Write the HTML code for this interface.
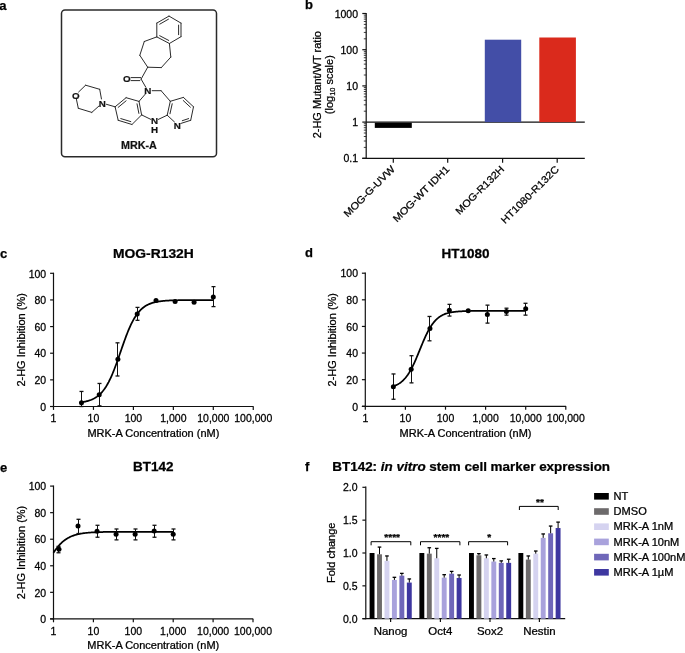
<!DOCTYPE html>
<html><head><meta charset="utf-8"><title>MRK-A figure</title>
<style>html,body{margin:0;padding:0;background:#fff;}body{width:685px;height:653px;overflow:hidden;}svg{display:block;font-family:'Liberation Sans',Arial,sans-serif;}</style>
</head><body>
<svg width="685" height="653" viewBox="0 0 685 653">
<text transform="translate(305.00 8.80)" font-size="13" text-anchor="start" font-weight="bold" fill="#000"  stroke="#000" stroke-width="0.25">b</text>
<text transform="translate(-0.80 10.00)" font-size="13" text-anchor="start" font-weight="bold" fill="#000"  stroke="#000" stroke-width="0.25">a</text>
<text transform="translate(0.00 257.50)" font-size="13" text-anchor="start" font-weight="bold" fill="#000"  stroke="#000" stroke-width="0.25">c</text>
<text transform="translate(305.00 256.80)" font-size="13" text-anchor="start" font-weight="bold" fill="#000"  stroke="#000" stroke-width="0.25">d</text>
<text transform="translate(0.00 471.50)" font-size="13" text-anchor="start" font-weight="bold" fill="#000"  stroke="#000" stroke-width="0.25">e</text>
<text transform="translate(305.00 470.70)" font-size="13" text-anchor="start" font-weight="bold" fill="#000"  stroke="#000" stroke-width="0.25">f</text>
<rect x="61.5" y="10" width="155" height="146.8" rx="3.5" ry="3.5" fill="none" stroke="#2a2a2a" stroke-width="1.5"/>
<line x1="169.00" y1="16.10" x2="181.00" y2="23.10" stroke="#2b2b2b" stroke-width="1.0" stroke-linecap="round"/>
<line x1="181.00" y1="23.10" x2="181.00" y2="36.70" stroke="#2b2b2b" stroke-width="1.0" stroke-linecap="round"/>
<line x1="181.00" y1="36.70" x2="169.40" y2="43.50" stroke="#2b2b2b" stroke-width="1.0" stroke-linecap="round"/>
<line x1="169.40" y1="43.50" x2="156.80" y2="36.90" stroke="#2b2b2b" stroke-width="1.0" stroke-linecap="round"/>
<line x1="156.80" y1="36.90" x2="156.80" y2="23.10" stroke="#2b2b2b" stroke-width="1.0" stroke-linecap="round"/>
<line x1="156.80" y1="23.10" x2="169.00" y2="16.10" stroke="#2b2b2b" stroke-width="1.0" stroke-linecap="round"/>
<line x1="159.73" y1="24.19" x2="168.46" y2="19.18" stroke="#2b2b2b" stroke-width="1.0" stroke-linecap="round"/>
<line x1="178.60" y1="25.10" x2="178.60" y2="34.70" stroke="#2b2b2b" stroke-width="1.0" stroke-linecap="round"/>
<line x1="168.74" y1="40.45" x2="159.69" y2="35.70" stroke="#2b2b2b" stroke-width="1.0" stroke-linecap="round"/>
<line x1="156.80" y1="36.90" x2="144.30" y2="41.50" stroke="#2b2b2b" stroke-width="1.0" stroke-linecap="round"/>
<line x1="144.30" y1="41.50" x2="139.80" y2="55.30" stroke="#2b2b2b" stroke-width="1.0" stroke-linecap="round"/>
<line x1="139.80" y1="55.30" x2="147.70" y2="67.20" stroke="#2b2b2b" stroke-width="1.0" stroke-linecap="round"/>
<line x1="147.70" y1="67.20" x2="161.30" y2="67.60" stroke="#2b2b2b" stroke-width="1.0" stroke-linecap="round"/>
<line x1="161.30" y1="67.60" x2="170.80" y2="57.10" stroke="#2b2b2b" stroke-width="1.0" stroke-linecap="round"/>
<line x1="170.80" y1="57.10" x2="169.40" y2="43.50" stroke="#2b2b2b" stroke-width="1.0" stroke-linecap="round"/>
<line x1="147.70" y1="67.20" x2="141.10" y2="79.10" stroke="#2b2b2b" stroke-width="1.0" stroke-linecap="round"/>
<line x1="130.60" y1="77.60" x2="141.00" y2="77.60" stroke="#2b2b2b" stroke-width="1.0" />
<line x1="130.60" y1="80.60" x2="140.20" y2="80.60" stroke="#2b2b2b" stroke-width="1.0" />
<text transform="translate(126.80 82.30)" font-size="9.8" text-anchor="middle" font-weight="bold" fill="#111" stroke="#111" stroke-width="0.2">O</text>
<line x1="141.10" y1="79.10" x2="145.89" y2="87.37" stroke="#2b2b2b" stroke-width="1.0" stroke-linecap="round"/>
<text transform="translate(147.80 93.80)" font-size="9.8" text-anchor="middle" font-weight="bold" fill="#111" stroke="#111" stroke-width="0.2">N</text>
<line x1="152.20" y1="90.70" x2="161.10" y2="90.70" stroke="#2b2b2b" stroke-width="1.0" stroke-linecap="round"/>
<line x1="161.10" y1="90.70" x2="170.30" y2="101.30" stroke="#2b2b2b" stroke-width="1.0" stroke-linecap="round"/>
<line x1="170.30" y1="101.30" x2="183.40" y2="97.40" stroke="#2b2b2b" stroke-width="1.0" stroke-linecap="round"/>
<line x1="183.40" y1="97.40" x2="193.50" y2="106.80" stroke="#2b2b2b" stroke-width="1.0" stroke-linecap="round"/>
<line x1="193.50" y1="106.80" x2="190.70" y2="120.30" stroke="#2b2b2b" stroke-width="1.0" stroke-linecap="round"/>
<line x1="190.70" y1="120.30" x2="180.92" y2="123.44" stroke="#2b2b2b" stroke-width="1.0" stroke-linecap="round"/>
<line x1="174.52" y1="122.01" x2="167.20" y2="115.20" stroke="#2b2b2b" stroke-width="1.0" stroke-linecap="round"/>
<line x1="167.20" y1="115.20" x2="170.30" y2="101.30" stroke="#2b2b2b" stroke-width="1.0" stroke-linecap="round"/>
<line x1="169.98" y1="113.77" x2="172.21" y2="103.77" stroke="#2b2b2b" stroke-width="1.0" stroke-linecap="round"/>
<line x1="183.23" y1="100.52" x2="190.40" y2="107.19" stroke="#2b2b2b" stroke-width="1.0" stroke-linecap="round"/>
<line x1="182.30" y1="120.70" x2="188.60" y2="118.60" stroke="#2b2b2b" stroke-width="1.0" stroke-linecap="round"/>
<text transform="translate(177.30 128.60)" font-size="9.8" text-anchor="middle" font-weight="bold" fill="#111" stroke="#111" stroke-width="0.2">N</text>
<text transform="translate(154.50 124.30)" font-size="9.8" text-anchor="middle" font-weight="bold" fill="#111" stroke="#111" stroke-width="0.2">N</text>
<text transform="translate(154.60 132.60)" font-size="9.8" text-anchor="middle" font-weight="bold" fill="#111" stroke="#111" stroke-width="0.2">H</text>
<line x1="115.10" y1="106.80" x2="126.10" y2="97.70" stroke="#2b2b2b" stroke-width="1.0" stroke-linecap="round"/>
<line x1="126.10" y1="97.70" x2="139.00" y2="101.40" stroke="#2b2b2b" stroke-width="1.0" stroke-linecap="round"/>
<line x1="139.00" y1="101.40" x2="141.60" y2="114.90" stroke="#2b2b2b" stroke-width="1.0" stroke-linecap="round"/>
<line x1="141.60" y1="114.90" x2="132.00" y2="124.50" stroke="#2b2b2b" stroke-width="1.0" stroke-linecap="round"/>
<line x1="132.00" y1="124.50" x2="118.20" y2="120.30" stroke="#2b2b2b" stroke-width="1.0" stroke-linecap="round"/>
<line x1="118.20" y1="120.30" x2="115.10" y2="106.80" stroke="#2b2b2b" stroke-width="1.0" stroke-linecap="round"/>
<line x1="118.17" y1="107.37" x2="126.09" y2="100.82" stroke="#2b2b2b" stroke-width="1.0" stroke-linecap="round"/>
<line x1="137.02" y1="103.82" x2="138.87" y2="113.39" stroke="#2b2b2b" stroke-width="1.0" stroke-linecap="round"/>
<line x1="130.79" y1="121.62" x2="120.81" y2="118.59" stroke="#2b2b2b" stroke-width="1.0" stroke-linecap="round"/>
<line x1="139.00" y1="101.40" x2="145.38" y2="94.02" stroke="#2b2b2b" stroke-width="1.0" stroke-linecap="round"/>
<line x1="141.60" y1="114.90" x2="151.00" y2="119.46" stroke="#2b2b2b" stroke-width="1.0" stroke-linecap="round"/>
<line x1="167.20" y1="115.20" x2="158.39" y2="119.39" stroke="#2b2b2b" stroke-width="1.0" stroke-linecap="round"/>
<text transform="translate(102.20 106.60)" font-size="9.8" text-anchor="middle" font-weight="bold" fill="#111" stroke="#111" stroke-width="0.2">N</text>
<line x1="115.10" y1="106.80" x2="106.43" y2="104.31" stroke="#2b2b2b" stroke-width="1.0" stroke-linecap="round"/>
<line x1="85.60" y1="85.20" x2="99.70" y2="89.30" stroke="#2b2b2b" stroke-width="1.0" stroke-linecap="round"/>
<line x1="99.70" y1="89.30" x2="101.45" y2="98.97" stroke="#2b2b2b" stroke-width="1.0" stroke-linecap="round"/>
<line x1="99.07" y1="105.90" x2="91.80" y2="112.40" stroke="#2b2b2b" stroke-width="1.0" stroke-linecap="round"/>
<line x1="91.80" y1="112.40" x2="78.30" y2="108.30" stroke="#2b2b2b" stroke-width="1.0" stroke-linecap="round"/>
<line x1="78.30" y1="108.30" x2="76.37" y2="99.11" stroke="#2b2b2b" stroke-width="1.0" stroke-linecap="round"/>
<line x1="78.59" y1="92.01" x2="85.60" y2="85.20" stroke="#2b2b2b" stroke-width="1.0" stroke-linecap="round"/>
<text transform="translate(75.70 98.50)" font-size="9.8" text-anchor="middle" font-weight="bold" fill="#111" stroke="#111" stroke-width="0.2">O</text>
<text transform="translate(138.90 148.60)" font-size="10.8" text-anchor="middle" font-weight="bold" fill="#111" stroke="#111" stroke-width="0.2">MRK-A</text>
<line x1="366.20" y1="12.90" x2="366.20" y2="159.00" stroke="#111" stroke-width="1.2" />
<line x1="362.30" y1="158.30" x2="366.20" y2="158.30" stroke="#111" stroke-width="1.2" />
<text transform="translate(358.00 162.30) scale(1.05 1)" font-size="10" text-anchor="end" font-weight="normal" fill="#000"  stroke="#000" stroke-width="0.25">0.1</text>
<line x1="363.80" y1="147.40" x2="366.20" y2="147.40" stroke="#111" stroke-width="0.8" />
<line x1="363.80" y1="141.03" x2="366.20" y2="141.03" stroke="#111" stroke-width="0.8" />
<line x1="363.80" y1="136.51" x2="366.20" y2="136.51" stroke="#111" stroke-width="0.8" />
<line x1="363.80" y1="133.00" x2="366.20" y2="133.00" stroke="#111" stroke-width="0.8" />
<line x1="363.80" y1="130.13" x2="366.20" y2="130.13" stroke="#111" stroke-width="0.8" />
<line x1="363.80" y1="127.71" x2="366.20" y2="127.71" stroke="#111" stroke-width="0.8" />
<line x1="363.80" y1="125.61" x2="366.20" y2="125.61" stroke="#111" stroke-width="0.8" />
<line x1="363.80" y1="123.76" x2="366.20" y2="123.76" stroke="#111" stroke-width="0.8" />
<line x1="362.30" y1="122.10" x2="366.20" y2="122.10" stroke="#111" stroke-width="1.2" />
<text transform="translate(358.00 126.10) scale(1.05 1)" font-size="10" text-anchor="end" font-weight="normal" fill="#000"  stroke="#000" stroke-width="0.25">1</text>
<line x1="363.80" y1="111.20" x2="366.20" y2="111.20" stroke="#111" stroke-width="0.8" />
<line x1="363.80" y1="104.83" x2="366.20" y2="104.83" stroke="#111" stroke-width="0.8" />
<line x1="363.80" y1="100.31" x2="366.20" y2="100.31" stroke="#111" stroke-width="0.8" />
<line x1="363.80" y1="96.80" x2="366.20" y2="96.80" stroke="#111" stroke-width="0.8" />
<line x1="363.80" y1="93.93" x2="366.20" y2="93.93" stroke="#111" stroke-width="0.8" />
<line x1="363.80" y1="91.51" x2="366.20" y2="91.51" stroke="#111" stroke-width="0.8" />
<line x1="363.80" y1="89.41" x2="366.20" y2="89.41" stroke="#111" stroke-width="0.8" />
<line x1="363.80" y1="87.56" x2="366.20" y2="87.56" stroke="#111" stroke-width="0.8" />
<line x1="362.30" y1="85.90" x2="366.20" y2="85.90" stroke="#111" stroke-width="1.2" />
<text transform="translate(358.00 89.90) scale(1.05 1)" font-size="10" text-anchor="end" font-weight="normal" fill="#000"  stroke="#000" stroke-width="0.25">10</text>
<line x1="363.80" y1="75.00" x2="366.20" y2="75.00" stroke="#111" stroke-width="0.8" />
<line x1="363.80" y1="68.63" x2="366.20" y2="68.63" stroke="#111" stroke-width="0.8" />
<line x1="363.80" y1="64.11" x2="366.20" y2="64.11" stroke="#111" stroke-width="0.8" />
<line x1="363.80" y1="60.60" x2="366.20" y2="60.60" stroke="#111" stroke-width="0.8" />
<line x1="363.80" y1="57.73" x2="366.20" y2="57.73" stroke="#111" stroke-width="0.8" />
<line x1="363.80" y1="55.31" x2="366.20" y2="55.31" stroke="#111" stroke-width="0.8" />
<line x1="363.80" y1="53.21" x2="366.20" y2="53.21" stroke="#111" stroke-width="0.8" />
<line x1="363.80" y1="51.36" x2="366.20" y2="51.36" stroke="#111" stroke-width="0.8" />
<line x1="362.30" y1="49.70" x2="366.20" y2="49.70" stroke="#111" stroke-width="1.2" />
<text transform="translate(358.00 53.70) scale(1.05 1)" font-size="10" text-anchor="end" font-weight="normal" fill="#000"  stroke="#000" stroke-width="0.25">100</text>
<line x1="363.80" y1="38.80" x2="366.20" y2="38.80" stroke="#111" stroke-width="0.8" />
<line x1="363.80" y1="32.43" x2="366.20" y2="32.43" stroke="#111" stroke-width="0.8" />
<line x1="363.80" y1="27.91" x2="366.20" y2="27.91" stroke="#111" stroke-width="0.8" />
<line x1="363.80" y1="24.40" x2="366.20" y2="24.40" stroke="#111" stroke-width="0.8" />
<line x1="363.80" y1="21.53" x2="366.20" y2="21.53" stroke="#111" stroke-width="0.8" />
<line x1="363.80" y1="19.11" x2="366.20" y2="19.11" stroke="#111" stroke-width="0.8" />
<line x1="363.80" y1="17.01" x2="366.20" y2="17.01" stroke="#111" stroke-width="0.8" />
<line x1="363.80" y1="15.16" x2="366.20" y2="15.16" stroke="#111" stroke-width="0.8" />
<line x1="362.30" y1="13.50" x2="366.20" y2="13.50" stroke="#111" stroke-width="1.2" />
<text transform="translate(358.00 17.50) scale(1.05 1)" font-size="10" text-anchor="end" font-weight="normal" fill="#000"  stroke="#000" stroke-width="0.25">1000</text>
<line x1="362.30" y1="158.40" x2="584.80" y2="158.40" stroke="#111" stroke-width="1.2" />
<line x1="366.20" y1="122.10" x2="584.80" y2="122.10" stroke="#111" stroke-width="1.2" />
<line x1="393.30" y1="158.40" x2="393.30" y2="162.80" stroke="#111" stroke-width="1.2" />
<text transform="translate(395.60 169.80) rotate(-45) scale(1.1 1)" font-size="10" text-anchor="end" font-weight="normal" fill="#000"  stroke="#000" stroke-width="0.25">MOG-G-UVW</text>
<line x1="447.70" y1="158.40" x2="447.70" y2="162.80" stroke="#111" stroke-width="1.2" />
<text transform="translate(450.00 169.80) rotate(-45) scale(1.1 1)" font-size="10" text-anchor="end" font-weight="normal" fill="#000"  stroke="#000" stroke-width="0.25">MOG-WT IDH1</text>
<line x1="502.60" y1="158.40" x2="502.60" y2="162.80" stroke="#111" stroke-width="1.2" />
<text transform="translate(504.90 169.80) rotate(-45) scale(1.1 1)" font-size="10" text-anchor="end" font-weight="normal" fill="#000"  stroke="#000" stroke-width="0.25">MOG-R132H</text>
<line x1="557.20" y1="158.40" x2="557.20" y2="162.80" stroke="#111" stroke-width="1.2" />
<text transform="translate(559.50 169.80) rotate(-45) scale(1.1 1)" font-size="10" text-anchor="end" font-weight="normal" fill="#000"  stroke="#000" stroke-width="0.25">HT1080-R132C</text>
<rect x="374.80" y="122.70" width="37.00" height="5.20" fill="#000"/>
<rect x="484.80" y="39.70" width="36.40" height="82.40" fill="#434ea7"/>
<rect x="539.30" y="37.50" width="36.60" height="84.60" fill="#da2a1c"/>
<text transform="translate(321.30 84.70) rotate(-90) scale(1.1 1)" font-size="10" text-anchor="middle" font-weight="normal" fill="#000"  stroke="#000" stroke-width="0.25">2-HG Mutant/WT ratio</text>
<text transform="translate(333.30 84.70) rotate(-90) scale(1.1 1)" font-size="10" text-anchor="middle" font-weight="normal" fill="#000"  stroke="#000" stroke-width="0.25">(log<tspan font-size="6.8" dy="2">10</tspan><tspan dy="-2"> scale)</tspan></text>
<line x1="53.50" y1="272.70" x2="53.50" y2="407.10" stroke="#111" stroke-width="1.2" />
<line x1="50.10" y1="406.50" x2="253.55" y2="406.50" stroke="#111" stroke-width="1.2" />
<line x1="50.10" y1="406.50" x2="53.50" y2="406.50" stroke="#111" stroke-width="1.2" />
<text transform="translate(46.20 410.70) scale(1.05 1)" font-size="10" text-anchor="end" font-weight="normal" fill="#000"  stroke="#000" stroke-width="0.25">0</text>
<line x1="50.10" y1="379.86" x2="53.50" y2="379.86" stroke="#111" stroke-width="1.2" />
<text transform="translate(46.20 384.06) scale(1.05 1)" font-size="10" text-anchor="end" font-weight="normal" fill="#000"  stroke="#000" stroke-width="0.25">20</text>
<line x1="50.10" y1="353.22" x2="53.50" y2="353.22" stroke="#111" stroke-width="1.2" />
<text transform="translate(46.20 357.42) scale(1.05 1)" font-size="10" text-anchor="end" font-weight="normal" fill="#000"  stroke="#000" stroke-width="0.25">40</text>
<line x1="50.10" y1="326.58" x2="53.50" y2="326.58" stroke="#111" stroke-width="1.2" />
<text transform="translate(46.20 330.78) scale(1.05 1)" font-size="10" text-anchor="end" font-weight="normal" fill="#000"  stroke="#000" stroke-width="0.25">60</text>
<line x1="50.10" y1="299.94" x2="53.50" y2="299.94" stroke="#111" stroke-width="1.2" />
<text transform="translate(46.20 304.14) scale(1.05 1)" font-size="10" text-anchor="end" font-weight="normal" fill="#000"  stroke="#000" stroke-width="0.25">80</text>
<line x1="50.10" y1="273.30" x2="53.50" y2="273.30" stroke="#111" stroke-width="1.2" />
<text transform="translate(46.20 277.50) scale(1.05 1)" font-size="10" text-anchor="end" font-weight="normal" fill="#000"  stroke="#000" stroke-width="0.25">100</text>
<line x1="53.50" y1="406.50" x2="53.50" y2="409.90" stroke="#111" stroke-width="1.2" />
<text transform="translate(53.50 422.30) scale(1.05 1)" font-size="10" text-anchor="middle" font-weight="normal" fill="#000"  stroke="#000" stroke-width="0.25">1</text>
<line x1="93.45" y1="406.50" x2="93.45" y2="409.90" stroke="#111" stroke-width="1.2" />
<text transform="translate(93.45 422.30) scale(1.05 1)" font-size="10" text-anchor="middle" font-weight="normal" fill="#000"  stroke="#000" stroke-width="0.25">10</text>
<line x1="133.40" y1="406.50" x2="133.40" y2="409.90" stroke="#111" stroke-width="1.2" />
<text transform="translate(133.40 422.30) scale(1.05 1)" font-size="10" text-anchor="middle" font-weight="normal" fill="#000"  stroke="#000" stroke-width="0.25">100</text>
<line x1="173.35" y1="406.50" x2="173.35" y2="409.90" stroke="#111" stroke-width="1.2" />
<text transform="translate(173.35 422.30) scale(1.05 1)" font-size="10" text-anchor="middle" font-weight="normal" fill="#000"  stroke="#000" stroke-width="0.25">1,000</text>
<line x1="213.30" y1="406.50" x2="213.30" y2="409.90" stroke="#111" stroke-width="1.2" />
<text transform="translate(213.30 422.30) scale(1.05 1)" font-size="10" text-anchor="middle" font-weight="normal" fill="#000"  stroke="#000" stroke-width="0.25">10,000</text>
<line x1="253.25" y1="406.50" x2="253.25" y2="409.90" stroke="#111" stroke-width="1.2" />
<text transform="translate(253.25 422.30) scale(1.05 1)" font-size="10" text-anchor="middle" font-weight="normal" fill="#000"  stroke="#000" stroke-width="0.25">100,000</text>
<text transform="translate(153.38 436.70) scale(1.1 1)" font-size="10" text-anchor="middle" font-weight="normal" fill="#000"  stroke="#000" stroke-width="0.25">MRK-A Concentration (nM)</text>
<text transform="translate(24.50 339.90) rotate(-90) scale(1.1 1)" font-size="10" text-anchor="middle" font-weight="normal" fill="#000"  stroke="#000" stroke-width="0.25">2-HG Inhibition (%)</text>
<text transform="translate(153.38 257.80) scale(1.11 1)" font-size="12.5" text-anchor="middle" font-weight="bold" fill="#000"  stroke="#000" stroke-width="0.25">MOG-R132H</text>
<path d="M81.47,402.22 L82.13,402.13 L82.79,402.02 L83.45,401.91 L84.11,401.79 L84.78,401.66 L85.44,401.53 L86.10,401.38 L86.76,401.22 L87.43,401.05 L88.09,400.86 L88.75,400.67 L89.41,400.45 L90.08,400.23 L90.74,399.98 L91.40,399.72 L92.06,399.44 L92.73,399.14 L93.39,398.82 L94.05,398.48 L94.71,398.11 L95.38,397.72 L96.04,397.30 L96.70,396.86 L97.36,396.38 L98.03,395.87 L98.69,395.33 L99.35,394.75 L100.01,394.14 L100.68,393.49 L101.34,392.79 L102.00,392.06 L102.66,391.28 L103.33,390.46 L103.99,389.59 L104.65,388.67 L105.31,387.70 L105.98,386.68 L106.64,385.60 L107.30,384.47 L107.96,383.29 L108.63,382.06 L109.29,380.77 L109.95,379.42 L110.61,378.02 L111.28,376.56 L111.94,375.06 L112.60,373.50 L113.26,371.89 L113.93,370.23 L114.59,368.53 L115.25,366.79 L115.91,365.01 L116.58,363.20 L117.24,361.36 L117.90,359.49 L118.56,357.60 L119.23,355.69 L119.89,353.77 L120.55,351.85 L121.21,349.93 L121.88,348.01 L122.54,346.11 L123.20,344.21 L123.86,342.34 L124.53,340.50 L125.19,338.68 L125.85,336.90 L126.51,335.16 L127.18,333.45 L127.84,331.79 L128.50,330.18 L129.16,328.62 L129.83,327.11 L130.49,325.65 L131.15,324.24 L131.81,322.89 L132.48,321.60 L133.14,320.36 L133.80,319.17 L134.46,318.04 L135.13,316.96 L135.79,315.94 L136.45,314.97 L137.11,314.04 L137.78,313.17 L138.44,312.34 L139.10,311.56 L139.76,310.82 L140.43,310.13 L141.09,309.47 L141.75,308.85 L142.41,308.27 L143.08,307.73 L143.74,307.22 L144.40,306.74 L145.06,306.29 L145.73,305.87 L146.39,305.48 L147.05,305.11 L147.71,304.76 L148.38,304.44 L149.04,304.14 L149.70,303.86 L150.36,303.60 L151.03,303.35 L151.69,303.12 L152.35,302.91 L153.01,302.71 L153.68,302.53 L154.34,302.36 L155.00,302.20 L155.66,302.05 L156.33,301.91 L156.99,301.78 L157.65,301.66 L158.31,301.55 L158.98,301.44 L159.64,301.35 L160.30,301.26 L160.96,301.17 L161.63,301.09 L162.29,301.02 L162.95,300.95 L163.61,300.89 L164.28,300.83 L164.94,300.78 L165.60,300.73 L166.26,300.68 L166.93,300.64 L167.59,300.60 L168.25,300.56 L168.91,300.53 L169.58,300.49 L170.24,300.46 L170.90,300.44 L171.56,300.41 L172.23,300.39 L172.89,300.36 L173.55,300.34 L174.21,300.32 L174.88,300.31 L175.54,300.29 L176.20,300.27 L176.86,300.26 L177.53,300.25 L178.19,300.23 L178.85,300.22 L179.51,300.21 L180.18,300.20 L180.84,300.19 L181.50,300.18 L182.16,300.18 L182.83,300.17 L183.49,300.16 L184.15,300.16 L184.81,300.15 L185.48,300.14 L186.14,300.14 L186.80,300.13 L187.46,300.13 L188.13,300.13 L188.79,300.12 L189.45,300.12 L190.11,300.12 L190.78,300.11 L191.44,300.11 L192.10,300.11 L192.76,300.10 L193.43,300.10 L194.09,300.10 L194.75,300.10 L195.41,300.10 L196.08,300.09 L196.74,300.09 L197.40,300.09 L198.06,300.09 L198.73,300.09 L199.39,300.09 L200.05,300.09 L200.71,300.09 L201.38,300.09 L202.04,300.08 L202.70,300.08 L203.36,300.08 L204.03,300.08 L204.69,300.08 L205.35,300.08 L206.01,300.08 L206.68,300.08 L207.34,300.08 L208.00,300.08 L208.66,300.08 L209.33,300.08 L209.99,300.08 L210.65,300.08 L211.31,300.08 L211.98,300.08 L212.64,300.08 L213.30,300.08" fill="none" stroke="#000" stroke-width="1.75"/>
<line x1="81.50" y1="402.77" x2="81.50" y2="391.45" stroke="#111" stroke-width="1.0" />
<line x1="79.50" y1="391.45" x2="83.50" y2="391.45" stroke="#111" stroke-width="1.3" />
<line x1="81.50" y1="402.77" x2="81.50" y2="406.50" stroke="#111" stroke-width="1.0" />
<line x1="79.50" y1="406.50" x2="83.50" y2="406.50" stroke="#111" stroke-width="1.3" />
<circle cx="81.47" cy="402.77" r="2.5" fill="#000"/>
<line x1="99.50" y1="394.65" x2="99.50" y2="383.46" stroke="#111" stroke-width="1.0" />
<line x1="97.50" y1="383.46" x2="101.50" y2="383.46" stroke="#111" stroke-width="1.3" />
<line x1="99.50" y1="394.65" x2="99.50" y2="405.83" stroke="#111" stroke-width="1.0" />
<line x1="97.50" y1="405.83" x2="101.50" y2="405.83" stroke="#111" stroke-width="1.3" />
<circle cx="99.20" cy="394.65" r="2.5" fill="#000"/>
<line x1="117.50" y1="359.35" x2="117.50" y2="342.83" stroke="#111" stroke-width="1.0" />
<line x1="115.50" y1="342.83" x2="119.50" y2="342.83" stroke="#111" stroke-width="1.3" />
<line x1="117.50" y1="359.35" x2="117.50" y2="376.00" stroke="#111" stroke-width="1.0" />
<line x1="115.50" y1="376.00" x2="119.50" y2="376.00" stroke="#111" stroke-width="1.3" />
<circle cx="117.90" cy="359.35" r="2.5" fill="#000"/>
<line x1="137.50" y1="313.93" x2="137.50" y2="307.40" stroke="#111" stroke-width="1.0" />
<line x1="135.50" y1="307.40" x2="139.50" y2="307.40" stroke="#111" stroke-width="1.3" />
<line x1="137.50" y1="313.93" x2="137.50" y2="320.32" stroke="#111" stroke-width="1.0" />
<line x1="135.50" y1="320.32" x2="139.50" y2="320.32" stroke="#111" stroke-width="1.3" />
<circle cx="137.20" cy="313.93" r="2.5" fill="#000"/>
<circle cx="156.01" cy="300.61" r="2.5" fill="#000"/>
<circle cx="175.11" cy="301.41" r="2.5" fill="#000"/>
<circle cx="194.08" cy="302.34" r="2.5" fill="#000"/>
<line x1="213.50" y1="297.01" x2="213.50" y2="286.62" stroke="#111" stroke-width="1.0" />
<line x1="211.50" y1="286.62" x2="215.50" y2="286.62" stroke="#111" stroke-width="1.3" />
<line x1="213.50" y1="297.01" x2="213.50" y2="306.60" stroke="#111" stroke-width="1.0" />
<line x1="211.50" y1="306.60" x2="215.50" y2="306.60" stroke="#111" stroke-width="1.3" />
<circle cx="213.30" cy="297.01" r="2.5" fill="#000"/>
<line x1="365.30" y1="272.60" x2="365.30" y2="406.90" stroke="#111" stroke-width="1.2" />
<line x1="361.90" y1="406.30" x2="566.10" y2="406.30" stroke="#111" stroke-width="1.2" />
<line x1="361.90" y1="406.30" x2="365.30" y2="406.30" stroke="#111" stroke-width="1.2" />
<text transform="translate(358.00 410.50) scale(1.05 1)" font-size="10" text-anchor="end" font-weight="normal" fill="#000"  stroke="#000" stroke-width="0.25">0</text>
<line x1="361.90" y1="379.68" x2="365.30" y2="379.68" stroke="#111" stroke-width="1.2" />
<text transform="translate(358.00 383.88) scale(1.05 1)" font-size="10" text-anchor="end" font-weight="normal" fill="#000"  stroke="#000" stroke-width="0.25">20</text>
<line x1="361.90" y1="353.06" x2="365.30" y2="353.06" stroke="#111" stroke-width="1.2" />
<text transform="translate(358.00 357.26) scale(1.05 1)" font-size="10" text-anchor="end" font-weight="normal" fill="#000"  stroke="#000" stroke-width="0.25">40</text>
<line x1="361.90" y1="326.44" x2="365.30" y2="326.44" stroke="#111" stroke-width="1.2" />
<text transform="translate(358.00 330.64) scale(1.05 1)" font-size="10" text-anchor="end" font-weight="normal" fill="#000"  stroke="#000" stroke-width="0.25">60</text>
<line x1="361.90" y1="299.82" x2="365.30" y2="299.82" stroke="#111" stroke-width="1.2" />
<text transform="translate(358.00 304.02) scale(1.05 1)" font-size="10" text-anchor="end" font-weight="normal" fill="#000"  stroke="#000" stroke-width="0.25">80</text>
<line x1="361.90" y1="273.20" x2="365.30" y2="273.20" stroke="#111" stroke-width="1.2" />
<text transform="translate(358.00 277.40) scale(1.05 1)" font-size="10" text-anchor="end" font-weight="normal" fill="#000"  stroke="#000" stroke-width="0.25">100</text>
<line x1="365.30" y1="406.30" x2="365.30" y2="409.70" stroke="#111" stroke-width="1.2" />
<text transform="translate(365.30 422.10) scale(1.05 1)" font-size="10" text-anchor="middle" font-weight="normal" fill="#000"  stroke="#000" stroke-width="0.25">1</text>
<line x1="405.40" y1="406.30" x2="405.40" y2="409.70" stroke="#111" stroke-width="1.2" />
<text transform="translate(405.40 422.10) scale(1.05 1)" font-size="10" text-anchor="middle" font-weight="normal" fill="#000"  stroke="#000" stroke-width="0.25">10</text>
<line x1="445.50" y1="406.30" x2="445.50" y2="409.70" stroke="#111" stroke-width="1.2" />
<text transform="translate(445.50 422.10) scale(1.05 1)" font-size="10" text-anchor="middle" font-weight="normal" fill="#000"  stroke="#000" stroke-width="0.25">100</text>
<line x1="485.60" y1="406.30" x2="485.60" y2="409.70" stroke="#111" stroke-width="1.2" />
<text transform="translate(485.60 422.10) scale(1.05 1)" font-size="10" text-anchor="middle" font-weight="normal" fill="#000"  stroke="#000" stroke-width="0.25">1,000</text>
<line x1="525.70" y1="406.30" x2="525.70" y2="409.70" stroke="#111" stroke-width="1.2" />
<text transform="translate(525.70 422.10) scale(1.05 1)" font-size="10" text-anchor="middle" font-weight="normal" fill="#000"  stroke="#000" stroke-width="0.25">10,000</text>
<line x1="565.80" y1="406.30" x2="565.80" y2="409.70" stroke="#111" stroke-width="1.2" />
<text transform="translate(565.80 422.10) scale(1.05 1)" font-size="10" text-anchor="middle" font-weight="normal" fill="#000"  stroke="#000" stroke-width="0.25">100,000</text>
<text transform="translate(465.55 436.50) scale(1.1 1)" font-size="10" text-anchor="middle" font-weight="normal" fill="#000"  stroke="#000" stroke-width="0.25">MRK-A Concentration (nM)</text>
<text transform="translate(336.30 339.75) rotate(-90) scale(1.1 1)" font-size="10" text-anchor="middle" font-weight="normal" fill="#000"  stroke="#000" stroke-width="0.25">2-HG Inhibition (%)</text>
<text transform="translate(465.55 257.70) scale(1.08 1)" font-size="12.5" text-anchor="middle" font-weight="bold" fill="#000"  stroke="#000" stroke-width="0.25">HT1080</text>
<path d="M393.37,386.21 L394.03,385.98 L394.70,385.73 L395.36,385.46 L396.03,385.18 L396.69,384.87 L397.36,384.53 L398.02,384.17 L398.69,383.78 L399.35,383.37 L400.02,382.92 L400.68,382.44 L401.35,381.92 L402.01,381.37 L402.68,380.78 L403.34,380.15 L404.01,379.48 L404.67,378.76 L405.34,378.00 L406.00,377.19 L406.67,376.33 L407.33,375.42 L408.00,374.46 L408.66,373.45 L409.33,372.39 L409.99,371.27 L410.66,370.11 L411.32,368.89 L411.99,367.62 L412.65,366.30 L413.32,364.93 L413.98,363.52 L414.65,362.07 L415.31,360.57 L415.98,359.05 L416.64,357.49 L417.31,355.91 L417.97,354.31 L418.64,352.69 L419.30,351.07 L419.97,349.43 L420.63,347.81 L421.30,346.18 L421.96,344.57 L422.63,342.98 L423.29,341.42 L423.96,339.88 L424.62,338.37 L425.29,336.90 L425.95,335.47 L426.62,334.08 L427.28,332.74 L427.95,331.45 L428.61,330.21 L429.28,329.02 L429.94,327.88 L430.61,326.80 L431.27,325.76 L431.94,324.78 L432.60,323.85 L433.27,322.97 L433.93,322.14 L434.60,321.36 L435.26,320.62 L435.93,319.93 L436.59,319.28 L437.26,318.68 L437.92,318.11 L438.59,317.58 L439.25,317.08 L439.92,316.62 L440.58,316.19 L441.25,315.79 L441.91,315.42 L442.58,315.07 L443.24,314.75 L443.91,314.46 L444.57,314.18 L445.24,313.92 L445.90,313.69 L446.57,313.47 L447.23,313.27 L447.90,313.08 L448.56,312.91 L449.23,312.75 L449.89,312.60 L450.56,312.46 L451.22,312.34 L451.89,312.22 L452.55,312.12 L453.22,312.02 L453.88,311.93 L454.55,311.84 L455.21,311.77 L455.88,311.69 L456.54,311.63 L457.21,311.57 L457.87,311.51 L458.54,311.46 L459.20,311.41 L459.87,311.37 L460.53,311.33 L461.20,311.29 L461.86,311.26 L462.53,311.23 L463.19,311.20 L463.86,311.17 L464.52,311.15 L465.19,311.13 L465.85,311.11 L466.52,311.09 L467.18,311.07 L467.85,311.05 L468.51,311.04 L469.18,311.02 L469.84,311.01 L470.51,311.00 L471.17,310.99 L471.84,310.98 L472.50,310.97 L473.17,310.96 L473.83,310.95 L474.50,310.95 L475.16,310.94 L475.83,310.94 L476.49,310.93 L477.16,310.92 L477.82,310.92 L478.49,310.92 L479.15,310.91 L479.82,310.91 L480.48,310.91 L481.15,310.90 L481.81,310.90 L482.48,310.90 L483.14,310.89 L483.81,310.89 L484.47,310.89 L485.14,310.89 L485.80,310.89 L486.47,310.89 L487.13,310.88 L487.80,310.88 L488.46,310.88 L489.13,310.88 L489.79,310.88 L490.46,310.88 L491.12,310.88 L491.79,310.88 L492.45,310.88 L493.12,310.88 L493.78,310.87 L494.45,310.87 L495.11,310.87 L495.78,310.87 L496.44,310.87 L497.11,310.87 L497.77,310.87 L498.44,310.87 L499.10,310.87 L499.77,310.87 L500.43,310.87 L501.10,310.87 L501.76,310.87 L502.43,310.87 L503.09,310.87 L503.76,310.87 L504.42,310.87 L505.09,310.87 L505.75,310.87 L506.42,310.87 L507.08,310.87 L507.75,310.87 L508.41,310.87 L509.08,310.87 L509.74,310.87 L510.41,310.87 L511.07,310.87 L511.74,310.87 L512.40,310.87 L513.07,310.87 L513.73,310.87 L514.40,310.87 L515.06,310.87 L515.73,310.87 L516.39,310.87 L517.06,310.87 L517.72,310.87 L518.39,310.87 L519.05,310.87 L519.72,310.87 L520.38,310.87 L521.05,310.87 L521.71,310.87 L522.38,310.87 L523.04,310.87 L523.71,310.87 L524.37,310.87 L525.04,310.87 L525.70,310.87" fill="none" stroke="#000" stroke-width="1.75"/>
<line x1="393.50" y1="386.87" x2="393.50" y2="373.96" stroke="#111" stroke-width="1.0" />
<line x1="391.50" y1="373.96" x2="395.50" y2="373.96" stroke="#111" stroke-width="1.3" />
<line x1="393.50" y1="386.87" x2="393.50" y2="399.25" stroke="#111" stroke-width="1.0" />
<line x1="391.50" y1="399.25" x2="395.50" y2="399.25" stroke="#111" stroke-width="1.3" />
<circle cx="393.37" cy="386.87" r="2.5" fill="#000"/>
<line x1="411.50" y1="369.30" x2="411.50" y2="355.72" stroke="#111" stroke-width="1.0" />
<line x1="409.50" y1="355.72" x2="413.50" y2="355.72" stroke="#111" stroke-width="1.3" />
<line x1="411.50" y1="369.30" x2="411.50" y2="382.87" stroke="#111" stroke-width="1.0" />
<line x1="409.50" y1="382.87" x2="413.50" y2="382.87" stroke="#111" stroke-width="1.3" />
<circle cx="411.17" cy="369.30" r="2.5" fill="#000"/>
<line x1="429.50" y1="328.44" x2="429.50" y2="316.46" stroke="#111" stroke-width="1.0" />
<line x1="427.50" y1="316.46" x2="431.50" y2="316.46" stroke="#111" stroke-width="1.3" />
<line x1="429.50" y1="328.44" x2="429.50" y2="340.81" stroke="#111" stroke-width="1.0" />
<line x1="427.50" y1="340.81" x2="431.50" y2="340.81" stroke="#111" stroke-width="1.3" />
<circle cx="429.94" cy="328.44" r="2.5" fill="#000"/>
<line x1="449.50" y1="310.33" x2="449.50" y2="304.35" stroke="#111" stroke-width="1.0" />
<line x1="447.50" y1="304.35" x2="451.50" y2="304.35" stroke="#111" stroke-width="1.3" />
<line x1="449.50" y1="310.33" x2="449.50" y2="316.06" stroke="#111" stroke-width="1.0" />
<line x1="447.50" y1="316.06" x2="451.50" y2="316.06" stroke="#111" stroke-width="1.3" />
<circle cx="449.31" cy="310.33" r="2.5" fill="#000"/>
<circle cx="468.20" cy="310.73" r="2.5" fill="#000"/>
<line x1="487.50" y1="314.46" x2="487.50" y2="305.14" stroke="#111" stroke-width="1.0" />
<line x1="485.50" y1="305.14" x2="489.50" y2="305.14" stroke="#111" stroke-width="1.3" />
<line x1="487.50" y1="314.46" x2="487.50" y2="323.11" stroke="#111" stroke-width="1.0" />
<line x1="485.50" y1="323.11" x2="489.50" y2="323.11" stroke="#111" stroke-width="1.3" />
<circle cx="487.36" cy="314.46" r="2.5" fill="#000"/>
<line x1="506.50" y1="311.53" x2="506.50" y2="308.21" stroke="#111" stroke-width="1.0" />
<line x1="504.50" y1="308.21" x2="508.50" y2="308.21" stroke="#111" stroke-width="1.3" />
<line x1="506.50" y1="311.53" x2="506.50" y2="315.13" stroke="#111" stroke-width="1.0" />
<line x1="504.50" y1="315.13" x2="508.50" y2="315.13" stroke="#111" stroke-width="1.3" />
<circle cx="506.41" cy="311.53" r="2.5" fill="#000"/>
<line x1="525.50" y1="308.87" x2="525.50" y2="303.28" stroke="#111" stroke-width="1.0" />
<line x1="523.50" y1="303.28" x2="527.50" y2="303.28" stroke="#111" stroke-width="1.3" />
<line x1="525.50" y1="308.87" x2="525.50" y2="315.13" stroke="#111" stroke-width="1.0" />
<line x1="523.50" y1="315.13" x2="527.50" y2="315.13" stroke="#111" stroke-width="1.3" />
<circle cx="525.70" cy="308.87" r="2.5" fill="#000"/>
<line x1="53.50" y1="485.50" x2="53.50" y2="619.50" stroke="#111" stroke-width="1.2" />
<line x1="50.10" y1="618.90" x2="253.30" y2="618.90" stroke="#111" stroke-width="1.2" />
<line x1="50.10" y1="618.90" x2="53.50" y2="618.90" stroke="#111" stroke-width="1.2" />
<text transform="translate(46.20 623.10) scale(1.05 1)" font-size="10" text-anchor="end" font-weight="normal" fill="#000"  stroke="#000" stroke-width="0.25">0</text>
<line x1="50.10" y1="592.34" x2="53.50" y2="592.34" stroke="#111" stroke-width="1.2" />
<text transform="translate(46.20 596.54) scale(1.05 1)" font-size="10" text-anchor="end" font-weight="normal" fill="#000"  stroke="#000" stroke-width="0.25">20</text>
<line x1="50.10" y1="565.78" x2="53.50" y2="565.78" stroke="#111" stroke-width="1.2" />
<text transform="translate(46.20 569.98) scale(1.05 1)" font-size="10" text-anchor="end" font-weight="normal" fill="#000"  stroke="#000" stroke-width="0.25">40</text>
<line x1="50.10" y1="539.22" x2="53.50" y2="539.22" stroke="#111" stroke-width="1.2" />
<text transform="translate(46.20 543.42) scale(1.05 1)" font-size="10" text-anchor="end" font-weight="normal" fill="#000"  stroke="#000" stroke-width="0.25">60</text>
<line x1="50.10" y1="512.66" x2="53.50" y2="512.66" stroke="#111" stroke-width="1.2" />
<text transform="translate(46.20 516.86) scale(1.05 1)" font-size="10" text-anchor="end" font-weight="normal" fill="#000"  stroke="#000" stroke-width="0.25">80</text>
<line x1="50.10" y1="486.10" x2="53.50" y2="486.10" stroke="#111" stroke-width="1.2" />
<text transform="translate(46.20 490.30) scale(1.05 1)" font-size="10" text-anchor="end" font-weight="normal" fill="#000"  stroke="#000" stroke-width="0.25">100</text>
<line x1="53.50" y1="618.90" x2="53.50" y2="622.30" stroke="#111" stroke-width="1.2" />
<text transform="translate(53.50 634.70) scale(1.05 1)" font-size="10" text-anchor="middle" font-weight="normal" fill="#000"  stroke="#000" stroke-width="0.25">1</text>
<line x1="93.40" y1="618.90" x2="93.40" y2="622.30" stroke="#111" stroke-width="1.2" />
<text transform="translate(93.40 634.70) scale(1.05 1)" font-size="10" text-anchor="middle" font-weight="normal" fill="#000"  stroke="#000" stroke-width="0.25">10</text>
<line x1="133.30" y1="618.90" x2="133.30" y2="622.30" stroke="#111" stroke-width="1.2" />
<text transform="translate(133.30 634.70) scale(1.05 1)" font-size="10" text-anchor="middle" font-weight="normal" fill="#000"  stroke="#000" stroke-width="0.25">100</text>
<line x1="173.20" y1="618.90" x2="173.20" y2="622.30" stroke="#111" stroke-width="1.2" />
<text transform="translate(173.20 634.70) scale(1.05 1)" font-size="10" text-anchor="middle" font-weight="normal" fill="#000"  stroke="#000" stroke-width="0.25">1,000</text>
<line x1="213.10" y1="618.90" x2="213.10" y2="622.30" stroke="#111" stroke-width="1.2" />
<text transform="translate(213.10 634.70) scale(1.05 1)" font-size="10" text-anchor="middle" font-weight="normal" fill="#000"  stroke="#000" stroke-width="0.25">10,000</text>
<line x1="253.00" y1="618.90" x2="253.00" y2="622.30" stroke="#111" stroke-width="1.2" />
<text transform="translate(253.00 634.70) scale(1.05 1)" font-size="10" text-anchor="middle" font-weight="normal" fill="#000"  stroke="#000" stroke-width="0.25">100,000</text>
<text transform="translate(153.25 649.10) scale(1.1 1)" font-size="10" text-anchor="middle" font-weight="normal" fill="#000"  stroke="#000" stroke-width="0.25">MRK-A Concentration (nM)</text>
<text transform="translate(24.50 552.50) rotate(-90) scale(1.1 1)" font-size="10" text-anchor="middle" font-weight="normal" fill="#000"  stroke="#000" stroke-width="0.25">2-HG Inhibition (%)</text>
<text transform="translate(153.25 471.30) scale(1.08 1)" font-size="12.5" text-anchor="middle" font-weight="bold" fill="#000"  stroke="#000" stroke-width="0.25">BT142</text>
<path d="M53.50,552.77 L54.10,551.85 L54.70,550.95 L55.30,550.09 L55.91,549.26 L56.51,548.45 L57.11,547.68 L57.71,546.93 L58.31,546.21 L58.91,545.52 L59.52,544.85 L60.12,544.21 L60.72,543.60 L61.32,543.01 L61.92,542.45 L62.52,541.92 L63.12,541.40 L63.73,540.91 L64.33,540.44 L64.93,540.00 L65.53,539.57 L66.13,539.16 L66.73,538.78 L67.33,538.41 L67.94,538.06 L68.54,537.73 L69.14,537.41 L69.74,537.11 L70.34,536.82 L70.94,536.55 L71.55,536.29 L72.15,536.05 L72.75,535.82 L73.35,535.60 L73.95,535.39 L74.55,535.19 L75.15,535.00 L75.76,534.83 L76.36,534.66 L76.96,534.50 L77.56,534.35 L78.16,534.21 L78.76,534.07 L79.36,533.95 L79.97,533.83 L80.57,533.71 L81.17,533.60 L81.77,533.50 L82.37,533.41 L82.97,533.32 L83.58,533.23 L84.18,533.15 L84.78,533.07 L85.38,533.00 L85.98,532.93 L86.58,532.87 L87.18,532.81 L87.79,532.75 L88.39,532.69 L88.99,532.64 L89.59,532.59 L90.19,532.55 L90.79,532.50 L91.39,532.46 L92.00,532.43 L92.60,532.39 L93.20,532.35 L93.80,532.32 L94.40,532.29 L95.00,532.26 L95.61,532.24 L96.21,532.21 L96.81,532.19 L97.41,532.16 L98.01,532.14 L98.61,532.12 L99.21,532.10 L99.82,532.08 L100.42,532.07 L101.02,532.05 L101.62,532.04 L102.22,532.02 L102.82,532.01 L103.43,531.99 L104.03,531.98 L104.63,531.97 L105.23,531.96 L105.83,531.95 L106.43,531.94 L107.03,531.93 L107.64,531.92 L108.24,531.92 L108.84,531.91 L109.44,531.90 L110.04,531.89 L110.64,531.89 L111.24,531.88 L111.85,531.88 L112.45,531.87 L113.05,531.87 L113.65,531.86 L114.25,531.86 L114.85,531.85 L115.46,531.85 L116.06,531.85 L116.66,531.84 L117.26,531.84 L117.86,531.84 L118.46,531.83 L119.06,531.83 L119.67,531.83 L120.27,531.82 L120.87,531.82 L121.47,531.82 L122.07,531.82 L122.67,531.82 L123.27,531.81 L123.88,531.81 L124.48,531.81 L125.08,531.81 L125.68,531.81 L126.28,531.81 L126.88,531.80 L127.49,531.80 L128.09,531.80 L128.69,531.80 L129.29,531.80 L129.89,531.80 L130.49,531.80 L131.09,531.80 L131.70,531.80 L132.30,531.80 L132.90,531.80 L133.50,531.79 L134.10,531.79 L134.70,531.79 L135.31,531.79 L135.91,531.79 L136.51,531.79 L137.11,531.79 L137.71,531.79 L138.31,531.79 L138.91,531.79 L139.52,531.79 L140.12,531.79 L140.72,531.79 L141.32,531.79 L141.92,531.79 L142.52,531.79 L143.12,531.79 L143.73,531.79 L144.33,531.79 L144.93,531.79 L145.53,531.79 L146.13,531.79 L146.73,531.79 L147.34,531.79 L147.94,531.79 L148.54,531.79 L149.14,531.79 L149.74,531.79 L150.34,531.79 L150.94,531.79 L151.55,531.79 L152.15,531.79 L152.75,531.78 L153.35,531.78 L153.95,531.78 L154.55,531.78 L155.15,531.78 L155.76,531.78 L156.36,531.78 L156.96,531.78 L157.56,531.78 L158.16,531.78 L158.76,531.78 L159.37,531.78 L159.97,531.78 L160.57,531.78 L161.17,531.78 L161.77,531.78 L162.37,531.78 L162.97,531.78 L163.58,531.78 L164.18,531.78 L164.78,531.78 L165.38,531.78 L165.98,531.78 L166.58,531.78 L167.18,531.78 L167.79,531.78 L168.39,531.78 L168.99,531.78 L169.59,531.78 L170.19,531.78 L170.79,531.78 L171.40,531.78 L172.00,531.78 L172.60,531.78 L173.20,531.78" fill="none" stroke="#000" stroke-width="1.75"/>
<line x1="58.50" y1="549.31" x2="58.50" y2="546.39" stroke="#111" stroke-width="1.0" />
<line x1="56.50" y1="546.39" x2="60.50" y2="546.39" stroke="#111" stroke-width="1.3" />
<line x1="58.50" y1="549.31" x2="58.50" y2="552.77" stroke="#111" stroke-width="1.0" />
<line x1="56.50" y1="552.77" x2="60.50" y2="552.77" stroke="#111" stroke-width="1.3" />
<circle cx="58.98" cy="549.31" r="2.5" fill="#000"/>
<line x1="78.50" y1="526.07" x2="78.50" y2="519.30" stroke="#111" stroke-width="1.0" />
<line x1="76.50" y1="519.30" x2="80.50" y2="519.30" stroke="#111" stroke-width="1.3" />
<line x1="78.50" y1="526.07" x2="78.50" y2="533.51" stroke="#111" stroke-width="1.0" />
<line x1="76.50" y1="533.51" x2="80.50" y2="533.51" stroke="#111" stroke-width="1.3" />
<circle cx="78.01" cy="526.07" r="2.5" fill="#000"/>
<line x1="97.50" y1="531.25" x2="97.50" y2="525.28" stroke="#111" stroke-width="1.0" />
<line x1="95.50" y1="525.28" x2="99.50" y2="525.28" stroke="#111" stroke-width="1.3" />
<line x1="97.50" y1="531.25" x2="97.50" y2="537.23" stroke="#111" stroke-width="1.0" />
<line x1="95.50" y1="537.23" x2="99.50" y2="537.23" stroke="#111" stroke-width="1.3" />
<circle cx="97.05" cy="531.25" r="2.5" fill="#000"/>
<line x1="116.50" y1="534.17" x2="116.50" y2="528.99" stroke="#111" stroke-width="1.0" />
<line x1="114.50" y1="528.99" x2="118.50" y2="528.99" stroke="#111" stroke-width="1.3" />
<line x1="116.50" y1="534.17" x2="116.50" y2="539.88" stroke="#111" stroke-width="1.0" />
<line x1="114.50" y1="539.88" x2="118.50" y2="539.88" stroke="#111" stroke-width="1.3" />
<circle cx="116.09" cy="534.17" r="2.5" fill="#000"/>
<line x1="135.50" y1="534.17" x2="135.50" y2="528.99" stroke="#111" stroke-width="1.0" />
<line x1="133.50" y1="528.99" x2="137.50" y2="528.99" stroke="#111" stroke-width="1.3" />
<line x1="135.50" y1="534.17" x2="135.50" y2="539.88" stroke="#111" stroke-width="1.0" />
<line x1="133.50" y1="539.88" x2="137.50" y2="539.88" stroke="#111" stroke-width="1.3" />
<circle cx="135.13" cy="534.17" r="2.5" fill="#000"/>
<line x1="154.50" y1="530.99" x2="154.50" y2="525.28" stroke="#111" stroke-width="1.0" />
<line x1="152.50" y1="525.28" x2="156.50" y2="525.28" stroke="#111" stroke-width="1.3" />
<line x1="154.50" y1="530.99" x2="154.50" y2="537.23" stroke="#111" stroke-width="1.0" />
<line x1="152.50" y1="537.23" x2="156.50" y2="537.23" stroke="#111" stroke-width="1.3" />
<circle cx="154.16" cy="530.99" r="2.5" fill="#000"/>
<line x1="173.50" y1="534.17" x2="173.50" y2="528.99" stroke="#111" stroke-width="1.0" />
<line x1="171.50" y1="528.99" x2="175.50" y2="528.99" stroke="#111" stroke-width="1.3" />
<line x1="173.50" y1="534.17" x2="173.50" y2="539.88" stroke="#111" stroke-width="1.0" />
<line x1="171.50" y1="539.88" x2="175.50" y2="539.88" stroke="#111" stroke-width="1.3" />
<circle cx="173.20" cy="534.17" r="2.5" fill="#000"/>
<line x1="365.80" y1="486.50" x2="365.80" y2="619.30" stroke="#111" stroke-width="1.2" />
<line x1="362.40" y1="618.70" x2="565.20" y2="618.70" stroke="#111" stroke-width="1.2" />
<line x1="362.40" y1="618.70" x2="365.80" y2="618.70" stroke="#111" stroke-width="1.2" />
<text transform="translate(357.50 622.70) scale(1.05 1)" font-size="10" text-anchor="end" font-weight="normal" fill="#000"  stroke="#000" stroke-width="0.25">0.0</text>
<line x1="362.40" y1="585.85" x2="365.80" y2="585.85" stroke="#111" stroke-width="1.2" />
<text transform="translate(357.50 589.85) scale(1.05 1)" font-size="10" text-anchor="end" font-weight="normal" fill="#000"  stroke="#000" stroke-width="0.25">0.5</text>
<line x1="362.40" y1="553.00" x2="365.80" y2="553.00" stroke="#111" stroke-width="1.2" />
<text transform="translate(357.50 557.00) scale(1.05 1)" font-size="10" text-anchor="end" font-weight="normal" fill="#000"  stroke="#000" stroke-width="0.25">1.0</text>
<line x1="362.40" y1="520.15" x2="365.80" y2="520.15" stroke="#111" stroke-width="1.2" />
<text transform="translate(357.50 524.15) scale(1.05 1)" font-size="10" text-anchor="end" font-weight="normal" fill="#000"  stroke="#000" stroke-width="0.25">1.5</text>
<line x1="362.40" y1="487.30" x2="365.80" y2="487.30" stroke="#111" stroke-width="1.2" />
<text transform="translate(357.50 491.30) scale(1.05 1)" font-size="10" text-anchor="end" font-weight="normal" fill="#000"  stroke="#000" stroke-width="0.25">2.0</text>
<text transform="translate(335.20 552.80) rotate(-90) scale(1.1 1)" font-size="10" text-anchor="middle" font-weight="normal" fill="#000"  stroke="#000" stroke-width="0.25">Fold change</text>
<rect x="369.60" y="553.00" width="4.90" height="65.70" fill="#000000"/>
<rect x="377.05" y="554.31" width="4.90" height="64.39" fill="#6d6a6b"/>
<line x1="379.50" y1="554.31" x2="379.50" y2="547.09" stroke="#000" stroke-width="1.0" />
<line x1="377.70" y1="547.09" x2="381.30" y2="547.09" stroke="#000" stroke-width="1.3" />
<rect x="384.50" y="560.88" width="4.90" height="57.82" fill="#d5d3f0"/>
<line x1="386.95" y1="560.88" x2="386.95" y2="555.96" stroke="#000" stroke-width="1.0" />
<line x1="385.15" y1="555.96" x2="388.75" y2="555.96" stroke="#000" stroke-width="1.3" />
<rect x="391.95" y="579.94" width="4.90" height="38.76" fill="#a9a2dc"/>
<line x1="394.40" y1="579.94" x2="394.40" y2="577.31" stroke="#000" stroke-width="1.0" />
<line x1="392.60" y1="577.31" x2="396.20" y2="577.31" stroke="#000" stroke-width="1.3" />
<rect x="399.40" y="575.67" width="4.90" height="43.03" fill="#6f67b9"/>
<line x1="401.85" y1="575.67" x2="401.85" y2="573.37" stroke="#000" stroke-width="1.0" />
<line x1="400.05" y1="573.37" x2="403.65" y2="573.37" stroke="#000" stroke-width="1.3" />
<rect x="406.85" y="582.57" width="4.90" height="36.13" fill="#3e37a0"/>
<line x1="409.30" y1="582.57" x2="409.30" y2="578.95" stroke="#000" stroke-width="1.0" />
<line x1="407.50" y1="578.95" x2="411.10" y2="578.95" stroke="#000" stroke-width="1.3" />
<line x1="390.60" y1="618.70" x2="390.60" y2="621.90" stroke="#111" stroke-width="1.2" />
<text transform="translate(390.60 634.80) scale(1.1 1)" font-size="10.4" text-anchor="middle" font-weight="normal" fill="#000"  stroke="#000" stroke-width="0.25">Nanog</text>
<rect x="419.40" y="553.00" width="4.90" height="65.70" fill="#000000"/>
<rect x="426.85" y="553.66" width="4.90" height="65.04" fill="#6d6a6b"/>
<line x1="429.30" y1="553.66" x2="429.30" y2="547.74" stroke="#000" stroke-width="1.0" />
<line x1="427.50" y1="547.74" x2="431.10" y2="547.74" stroke="#000" stroke-width="1.3" />
<rect x="434.30" y="558.26" width="4.90" height="60.44" fill="#d5d3f0"/>
<line x1="436.75" y1="558.26" x2="436.75" y2="548.40" stroke="#000" stroke-width="1.0" />
<line x1="434.95" y1="548.40" x2="438.55" y2="548.40" stroke="#000" stroke-width="1.3" />
<rect x="441.75" y="577.64" width="4.90" height="41.06" fill="#a9a2dc"/>
<line x1="444.20" y1="577.64" x2="444.20" y2="574.68" stroke="#000" stroke-width="1.0" />
<line x1="442.40" y1="574.68" x2="446.00" y2="574.68" stroke="#000" stroke-width="1.3" />
<rect x="449.20" y="573.70" width="4.90" height="45.00" fill="#6f67b9"/>
<line x1="451.65" y1="573.70" x2="451.65" y2="571.40" stroke="#000" stroke-width="1.0" />
<line x1="449.85" y1="571.40" x2="453.45" y2="571.40" stroke="#000" stroke-width="1.3" />
<rect x="456.65" y="577.97" width="4.90" height="40.73" fill="#3e37a0"/>
<line x1="459.10" y1="577.97" x2="459.10" y2="575.01" stroke="#000" stroke-width="1.0" />
<line x1="457.30" y1="575.01" x2="460.90" y2="575.01" stroke="#000" stroke-width="1.3" />
<line x1="440.40" y1="618.70" x2="440.40" y2="621.90" stroke="#111" stroke-width="1.2" />
<text transform="translate(440.40 634.80) scale(1.1 1)" font-size="10.4" text-anchor="middle" font-weight="normal" fill="#000"  stroke="#000" stroke-width="0.25">Oct4</text>
<rect x="469.00" y="553.00" width="4.90" height="65.70" fill="#000000"/>
<rect x="476.45" y="555.30" width="4.90" height="63.40" fill="#6d6a6b"/>
<line x1="478.90" y1="555.30" x2="478.90" y2="553.66" stroke="#000" stroke-width="1.0" />
<line x1="477.10" y1="553.66" x2="480.70" y2="553.66" stroke="#000" stroke-width="1.3" />
<rect x="483.90" y="558.26" width="4.90" height="60.44" fill="#d5d3f0"/>
<line x1="486.35" y1="558.26" x2="486.35" y2="554.97" stroke="#000" stroke-width="1.0" />
<line x1="484.55" y1="554.97" x2="488.15" y2="554.97" stroke="#000" stroke-width="1.3" />
<rect x="491.35" y="561.54" width="4.90" height="57.16" fill="#a9a2dc"/>
<line x1="493.80" y1="561.54" x2="493.80" y2="558.58" stroke="#000" stroke-width="1.0" />
<line x1="492.00" y1="558.58" x2="495.60" y2="558.58" stroke="#000" stroke-width="1.3" />
<rect x="498.80" y="562.86" width="4.90" height="55.85" fill="#6f67b9"/>
<line x1="501.25" y1="562.86" x2="501.25" y2="560.88" stroke="#000" stroke-width="1.0" />
<line x1="499.45" y1="560.88" x2="503.05" y2="560.88" stroke="#000" stroke-width="1.3" />
<rect x="506.25" y="562.86" width="4.90" height="55.85" fill="#3e37a0"/>
<line x1="508.70" y1="562.86" x2="508.70" y2="559.24" stroke="#000" stroke-width="1.0" />
<line x1="506.90" y1="559.24" x2="510.50" y2="559.24" stroke="#000" stroke-width="1.3" />
<line x1="490.00" y1="618.70" x2="490.00" y2="621.90" stroke="#111" stroke-width="1.2" />
<text transform="translate(490.00 634.80) scale(1.1 1)" font-size="10.4" text-anchor="middle" font-weight="normal" fill="#000"  stroke="#000" stroke-width="0.25">Sox2</text>
<rect x="518.40" y="553.00" width="4.90" height="65.70" fill="#000000"/>
<rect x="525.85" y="559.57" width="4.90" height="59.13" fill="#6d6a6b"/>
<line x1="528.30" y1="559.57" x2="528.30" y2="555.96" stroke="#000" stroke-width="1.0" />
<line x1="526.50" y1="555.96" x2="530.10" y2="555.96" stroke="#000" stroke-width="1.3" />
<rect x="533.30" y="553.66" width="4.90" height="65.04" fill="#d5d3f0"/>
<line x1="535.75" y1="553.66" x2="535.75" y2="551.03" stroke="#000" stroke-width="1.0" />
<line x1="533.95" y1="551.03" x2="537.55" y2="551.03" stroke="#000" stroke-width="1.3" />
<rect x="540.75" y="537.89" width="4.90" height="80.81" fill="#a9a2dc"/>
<line x1="543.20" y1="537.89" x2="543.20" y2="533.95" stroke="#000" stroke-width="1.0" />
<line x1="541.40" y1="533.95" x2="545.00" y2="533.95" stroke="#000" stroke-width="1.3" />
<rect x="548.20" y="533.29" width="4.90" height="85.41" fill="#6f67b9"/>
<line x1="550.65" y1="533.29" x2="550.65" y2="526.06" stroke="#000" stroke-width="1.0" />
<line x1="548.85" y1="526.06" x2="552.45" y2="526.06" stroke="#000" stroke-width="1.3" />
<rect x="555.65" y="528.03" width="4.90" height="90.67" fill="#3e37a0"/>
<line x1="558.10" y1="528.03" x2="558.10" y2="522.12" stroke="#000" stroke-width="1.0" />
<line x1="556.30" y1="522.12" x2="559.90" y2="522.12" stroke="#000" stroke-width="1.3" />
<line x1="539.40" y1="618.70" x2="539.40" y2="621.90" stroke="#111" stroke-width="1.2" />
<text transform="translate(539.40 634.80) scale(1.1 1)" font-size="10.4" text-anchor="middle" font-weight="normal" fill="#000"  stroke="#000" stroke-width="0.25">Nestin</text>
<path d="M371.10,545.30 L371.10,541.70 L410.80,541.70 L410.80,545.30" fill="none" stroke="#000" stroke-width="1.0"/>
<text transform="translate(392.15 540.20) scale(1.12 1)" font-size="9" text-anchor="middle" font-weight="bold" fill="#000"  stroke="#000" stroke-width="0.25">****</text>
<path d="M420.50,545.30 L420.50,541.70 L459.90,541.70 L459.90,545.30" fill="none" stroke="#000" stroke-width="1.0"/>
<text transform="translate(441.40 540.20) scale(1.12 1)" font-size="9" text-anchor="middle" font-weight="bold" fill="#000"  stroke="#000" stroke-width="0.25">****</text>
<path d="M468.60,545.30 L468.60,541.70 L507.60,541.70 L507.60,545.30" fill="none" stroke="#000" stroke-width="1.0"/>
<text transform="translate(489.30 540.20) scale(1.12 1)" font-size="9" text-anchor="middle" font-weight="bold" fill="#000"  stroke="#000" stroke-width="0.25">*</text>
<path d="M519.40,510.00 L519.40,506.40 L558.20,506.40 L558.20,510.00" fill="none" stroke="#000" stroke-width="1.0"/>
<text transform="translate(540.00 504.90) scale(1.12 1)" font-size="9" text-anchor="middle" font-weight="bold" fill="#000"  stroke="#000" stroke-width="0.25">**</text>
<rect x="594.10" y="493.00" width="14.70" height="6.60" fill="#000000"/>
<text transform="translate(613.60 499.90) scale(1.085 1)" font-size="10.2" text-anchor="start" font-weight="normal" fill="#000"  stroke="#000" stroke-width="0.25">NT</text>
<rect x="594.10" y="508.20" width="14.70" height="6.60" fill="#6d6a6b"/>
<text transform="translate(613.60 515.10) scale(1.085 1)" font-size="10.2" text-anchor="start" font-weight="normal" fill="#000"  stroke="#000" stroke-width="0.25">DMSO</text>
<rect x="594.10" y="523.40" width="14.70" height="6.60" fill="#d5d3f0"/>
<text transform="translate(613.60 530.30) scale(1.085 1)" font-size="10.2" text-anchor="start" font-weight="normal" fill="#000"  stroke="#000" stroke-width="0.25">MRK-A 1nM</text>
<rect x="594.10" y="538.60" width="14.70" height="6.60" fill="#a9a2dc"/>
<text transform="translate(613.60 545.50) scale(1.085 1)" font-size="10.2" text-anchor="start" font-weight="normal" fill="#000"  stroke="#000" stroke-width="0.25">MRK-A 10nM</text>
<rect x="594.10" y="553.80" width="14.70" height="6.60" fill="#6f67b9"/>
<text transform="translate(613.60 560.70) scale(1.085 1)" font-size="10.2" text-anchor="start" font-weight="normal" fill="#000"  stroke="#000" stroke-width="0.25">MRK-A 100nM</text>
<rect x="594.10" y="569.00" width="14.70" height="6.60" fill="#3e37a0"/>
<text transform="translate(613.60 575.90) scale(1.085 1)" font-size="10.2" text-anchor="start" font-weight="normal" fill="#000"  stroke="#000" stroke-width="0.25">MRK-A 1µM</text>
<text transform="translate(332.30 471.40) scale(1.12 1)" font-size="12" text-anchor="start" font-weight="bold" fill="#000"  stroke="#000" stroke-width="0.25">BT142: <tspan font-style="italic">in vitro</tspan> stem cell marker expression</text>
</svg>
</body></html>
